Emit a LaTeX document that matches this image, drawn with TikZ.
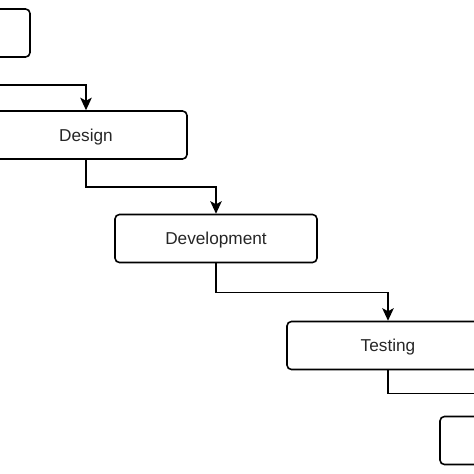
\documentclass[tikz,border=0pt]{standalone}
\usepackage{fontspec}
\setmainfont{Liberation Sans}
\usetikzlibrary{arrows.meta}

\begin{document}
\begin{tikzpicture}[x=0.02cm,y=-0.02cm,
  phase/.style={draw=black,line width=0.9pt,rounded corners=2.5pt,minimum width=4.04cm,minimum height=0.96cm,inner sep=0pt,text=black!85,text depth=0pt,font=\fontsize{9.8}{12}\selectfont},
  flow/.style={line width=0.9pt,-{Stealth[length=0.25cm,width=0.23cm,inset=0.06cm]}}]

\useasboundingbox (0,0) rectangle (474,474);
\clip (0,0) rectangle (474,474);

\node[phase] (req) at (-71,33) {};
\node[phase] (design) at (86,135) {Design};
\node[phase] (dev) at (216,238.5) {Development};
\node[phase] (test) at (388,345.5) {Testing};
\node[phase] (maint) at (541,440.5) {};

\draw[flow] (req.south) -- ++(0,27) -| (design.north);
\draw[flow] (design.south) -- ++(0,27) -| (dev.north);
\draw[flow] (dev.south) -- ++(0,29) -| (test.north);
\draw[flow] (test.south) -- ++(0,23) -| (maint.north);

\end{tikzpicture}
\end{document}
